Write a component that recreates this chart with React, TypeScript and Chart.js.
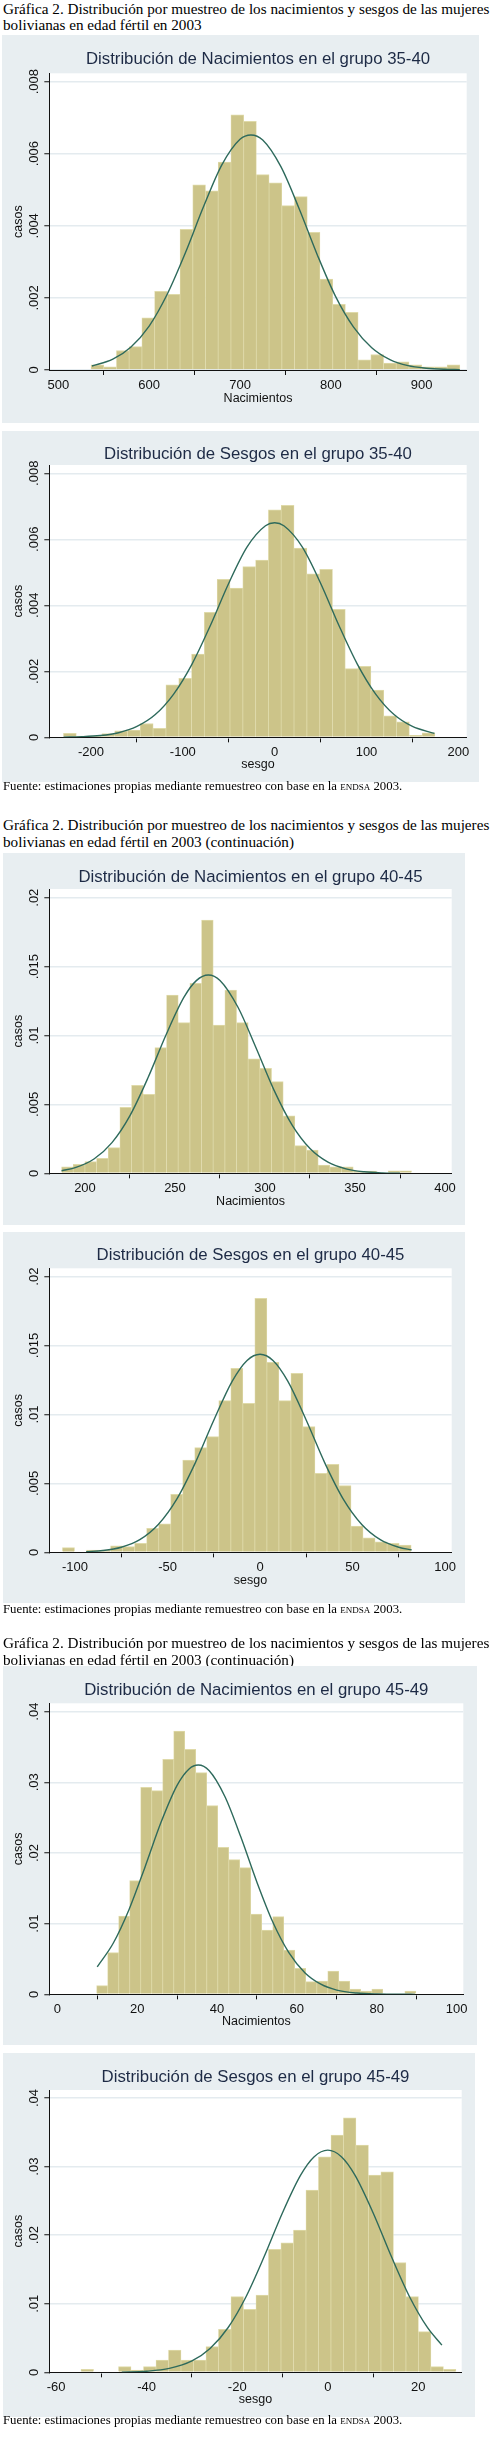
import React, { useEffect, useRef } from "react";
import { Chart, registerables } from "chart.js";

Chart.register(...registerables);

// ---------------- DATA ----------------
// Panel 1 — Nacimientos 35-40
const nac3540BinStart = 536;
const nac3540BinWidth = 14;
const nac3540Density = [0.00014, 0.00009, 0.00054, 0.00065, 0.00145, 0.00218, 0.0021, 0.0039, 0.00514, 0.00497, 0.00577, 0.00708, 0.0069, 0.00542, 0.00519, 0.00456, 0.00481, 0.00382, 0.00252, 0.00182, 0.0016, 0.00028, 0.00043, 0.00019, 0.00023, 0.00014, 0.00009, 0.00009, 0.00014];
const nac3540CurveX = [537, 560, 580, 600, 620, 640, 660, 680, 700, 712, 725, 745, 765, 785, 805, 825, 845, 865, 885, 905, 925, 942];
const nac3540CurveY = [0.00011, 0.0003, 0.00064, 0.00122, 0.00211, 0.00326, 0.00454, 0.00569, 0.0064, 0.00652, 0.00638, 0.00564, 0.00448, 0.0032, 0.00205, 0.00119, 0.00062, 0.00029, 0.00012, 0.00005, 0.00002, 0.00001];

// Panel 2 — Sesgos 35-40
const ses3540BinStart = -230;
const ses3540BinWidth = 13.95;
const ses3540Density = [0.00012, 0.00004, 0.00004, 0.00011, 0.0002, 0.00022, 0.00042, 0.00027, 0.00159, 0.00179, 0.00252, 0.00379, 0.00479, 0.00452, 0.00517, 0.00537, 0.00689, 0.00703, 0.00573, 0.00495, 0.00509, 0.00388, 0.00208, 0.00215, 0.00143, 0.00065, 0.00047, 0.00006, 0.00014];
const ses3540CurveX = [-230, -210, -190, -170, -150, -130, -110, -90, -70, -50, -30, -10, 0, 10, 30, 50, 70, 90, 110, 130, 150, 174];
const ses3540CurveY = [0.000006, 0.000019, 0.000054, 0.00014, 0.00033, 0.00069, 0.00131, 0.00222, 0.00339, 0.00467, 0.00577, 0.00641, 0.0065, 0.00641, 0.00577, 0.00467, 0.00339, 0.00222, 0.00131, 0.00069, 0.00033, 0.00012];

// Panel 3 — Nacimientos 40-45
const nac4045BinStart = 187;
const nac4045BinWidth = 6.48;
const nac4045Density = [0.00048, 0.00065, 0.00085, 0.00109, 0.00186, 0.00479, 0.00638, 0.00573, 0.00912, 0.01294, 0.01093, 0.01378, 0.01838, 0.01076, 0.0133, 0.01093, 0.0083, 0.00762, 0.00665, 0.00418, 0.00201, 0.00169, 0.0006, 0.00048, 0.00048, 0.00017, 0.00017, 0, 0.00019, 0.00019];
const nac4045CurveX = [187, 195, 205, 215, 225, 235, 245, 255, 262, 268.5, 275, 285, 295, 305, 315, 325, 335, 345, 355, 365, 375];
const nac4045CurveY = [0.00019, 0.00043, 0.00104, 0.00223, 0.00419, 0.00693, 0.01004, 0.01278, 0.014, 0.01439, 0.014, 0.01205, 0.00911, 0.00604, 0.00352, 0.0018, 0.00081, 0.00032, 0.00011, 0.00003, 0.00001];

// Panel 4 — Sesgos 40-45
const ses4045BinStart = -106.8;
const ses4045BinWidth = 6.5;
const ses4045Density = [0.00034, 0, 0.00017, 0.00017, 0.00048, 0.00041, 0.00065, 0.00174, 0.00206, 0.00421, 0.0067, 0.00759, 0.00839, 0.011, 0.01335, 0.01081, 0.01843, 0.01378, 0.011, 0.01299, 0.00912, 0.00573, 0.00638, 0.00484, 0.00191, 0.00106, 0.00077, 0.00065, 0.00053];
const ses4045CurveX = [-94, -85, -75, -65, -55, -45, -35, -25, -15, -7, 0, 7, 15, 25, 35, 45, 55, 65, 75, 82];
const ses4045CurveY = [0.00005, 0.00013, 0.00037, 0.00092, 0.00202, 0.00386, 0.00649, 0.00958, 0.01242, 0.01392, 0.01437, 0.01392, 0.01242, 0.00958, 0.00649, 0.00386, 0.00202, 0.00092, 0.00037, 0.00018];

// Panel 5 — Nacimientos 45-49
const nac4549BinStart = 9.85;
const nac4549BinWidth = 2.757;
const nac4549Density = [0.00123, 0.0059, 0.01108, 0.01608, 0.02929, 0.02882, 0.03325, 0.03726, 0.03467, 0.03137, 0.0267, 0.0208, 0.01906, 0.01792, 0.01137, 0.0091, 0.01099, 0.00627, 0.00368, 0.00179, 0.00189, 0.0033, 0.00189, 0.00075, 0.00047, 0.00075, 0, 0, 0.00047];
const nac4549CurveX = [10, 14, 18, 22, 26, 30, 33, 35.3, 38, 42, 46, 50, 54, 58, 62, 66, 70, 75, 80, 85, 89.6];
const nac4549CurveY = [0.0039, 0.00723, 0.01205, 0.01807, 0.02437, 0.02957, 0.03189, 0.03245, 0.03168, 0.02797, 0.02222, 0.01587, 0.0102, 0.0059, 0.00306, 0.00143, 0.0006, 0.00018, 0.00004, 0.00001, 0];

// Panel 6 — Sesgos 45-49
const ses4549BinStart = -54.5;
const ses4549BinWidth = 2.76;
const ses4549Density = [0.00044, 0, 0, 0.00083, 0.00034, 0.00083, 0.0018, 0.00326, 0.0018, 0.0018, 0.00374, 0.00627, 0.01103, 0.00918, 0.01127, 0.01793, 0.0189, 0.02075, 0.02658, 0.03144, 0.0346, 0.03712, 0.03314, 0.02877, 0.02925, 0.01599, 0.01103, 0.00593, 0.00083, 0.00044];
const ses4549CurveX = [-45.5, -40, -35, -30, -26, -22, -18, -14, -10, -6, -3, 0, 3, 6, 10, 14, 18, 22, 25.2];
const ses4549CurveY = [0.00003, 0.00016, 0.00057, 0.00166, 0.00347, 0.00654, 0.0111, 0.01695, 0.02328, 0.02876, 0.03145, 0.0324, 0.03145, 0.02876, 0.02328, 0.01695, 0.0111, 0.00654, 0.00397];

// Tick values and labels
const xTicksNac3540 = [500, 600, 700, 800, 900];
const xLabelsNac3540 = ["500", "600", "700", "800", "900"];
const xTicksSes3540 = [-200, -100, 0, 100, 200];
const xLabelsSes3540 = ["-200", "-100", "0", "100", "200"];
const xTicksNac4045 = [200, 250, 300, 350, 400];
const xLabelsNac4045 = ["200", "250", "300", "350", "400"];
const xTicksSes4045 = [-100, -50, 0, 50, 100];
const xLabelsSes4045 = ["-100", "-50", "0", "50", "100"];
const xTicksNac4549 = [0, 20, 40, 60, 80, 100];
const xLabelsNac4549 = ["0", "20", "40", "60", "80", "100"];
const xTicksSes4549 = [-60, -40, -20, 0, 20];
const xLabelsSes4549 = ["-60", "-40", "-20", "0", "20"];

const yTicks3540 = [0, 0.002, 0.004, 0.006, 0.008];
const yLabels3540 = ["0", ".002", ".004", ".006", ".008"];
const yTicks4045 = [0, 0.005, 0.01, 0.015, 0.02];
const yLabels4045 = ["0", ".005", ".01", ".015", ".02"];
const yTicks4549 = [0, 0.01, 0.02, 0.03, 0.04];
const yLabels4549 = ["0", ".01", ".02", ".03", ".04"];

const captionLine1 = "Gráfica 2. Distribución por muestreo de los nacimientos y sesgos de las mujeres";
const captionLine2 = "bolivianas en edad fértil en 2003";
const captionCont = " (continuación)";
const sourceBefore = "Fuente: estimaciones propias mediante remuestreo con base en la ";
const sourceAcronym = "endsa";
const sourceAfter = " 2003.";

// ---------------- STYLE ----------------
const SANS = '"Liberation Sans", Arial, sans-serif';
const SERIF = '"Liberation Serif", "Times New Roman", serif';
const PANEL_BG = "#e8eef1";
const PLOT_BG = "#ffffff";
const GRID = "#e4ebef";
const BAR_FILL = "#ccc489";
const BAR_EDGE = "#dfdaa9";
const CURVE = "#2e6a5c";
const AXIS = "#111111";
const TEXT = "#111111";
const TITLE_COLOR = "#1d2a45";
const TITLE_SIZE = 16.8;
const TICK_SIZE = 13;
const AXIS_TITLE_SIZE = 12.5;
const TICK_LEN = 5;
const X_LABEL_CENTER = 15;
const Y_LABEL_CENTER = 14.8;
const Y_TITLE_PAGE_X = 18.5;

type Box = { left: number; top: number; width: number; height: number };
type Rect = { left: number; top: number; right: number; bottom: number };

type PanelCfg = {
  title: string;
  xTitle: string;
  binStart: number;
  binWidth: number;
  density: number[];
  curveX: number[];
  curveY: number[];
  xTicks: number[];
  xLabels: string[];
  yTicks: number[];
  yLabels: string[];
  xMin: number;
  xMax: number;
  yMax: number;
  box: Box;
  plot: Rect; // page coordinates
  titleY: number; // page coordinates
  xTitleY: number; // page coordinates
};

const panels: PanelCfg[] = [
  {
    title: "Distribución de Nacimientos en el grupo 35-40",
    xTitle: "Nacimientos",
    binStart: nac3540BinStart, binWidth: nac3540BinWidth, density: nac3540Density,
    curveX: nac3540CurveX, curveY: nac3540CurveY,
    xTicks: xTicksNac3540, xLabels: xLabelsNac3540, yTicks: yTicks3540, yLabels: yLabels3540,
    xMin: 490.1, xMax: 949.5, yMax: 0.00823,
    box: { left: 2, top: 35, width: 477, height: 388 },
    plot: { left: 49.33, top: 73.33, right: 466.67, bottom: 370 },
    titleY: 59.8, xTitleY: 398.8,
  },
  {
    title: "Distribución de Sesgos en el grupo 35-40",
    xTitle: "sesgo",
    binStart: ses3540BinStart, binWidth: ses3540BinWidth, density: ses3540Density,
    curveX: ses3540CurveX, curveY: ses3540CurveY,
    xTicks: xTicksSes3540, xLabels: xLabelsSes3540, yTicks: yTicks3540, yLabels: yLabels3540,
    xMin: -245.4, xMax: 209.1, yMax: 0.00825,
    box: { left: 2, top: 431, width: 477, height: 351 },
    plot: { left: 49.33, top: 465, right: 466.67, bottom: 737.33 },
    titleY: 454.2, xTitleY: 765,
  },
  {
    title: "Distribución de Nacimientos en el grupo 40-45",
    xTitle: "Nacimientos",
    binStart: nac4045BinStart, binWidth: nac4045BinWidth, density: nac4045Density,
    curveX: nac4045CurveX, curveY: nac4045CurveY,
    xTicks: xTicksNac4045, xLabels: xLabelsNac4045, yTicks: yTicks4045, yLabels: yLabels4045,
    xMin: 180.2, xMax: 403.7, yMax: 0.02063,
    box: { left: 3, top: 853, width: 462, height: 372 },
    plot: { left: 49.33, top: 889, right: 451.67, bottom: 1173.33 },
    titleY: 877.5, xTitleY: 1201.7,
  },
  {
    title: "Distribución de Sesgos en el grupo 40-45",
    xTitle: "sesgo",
    binStart: ses4045BinStart, binWidth: ses4045BinWidth, density: ses4045Density,
    curveX: ses4045CurveX, curveY: ses4045CurveY,
    xTicks: xTicksSes4045, xLabels: xLabelsSes4045, yTicks: yTicks4045, yLabels: yLabels4045,
    xMin: -113.9, xMax: 103.6, yMax: 0.0206,
    box: { left: 3, top: 1232, width: 462, height: 371 },
    plot: { left: 49.33, top: 1268.33, right: 451.67, bottom: 1552.33 },
    titleY: 1255.8, xTitleY: 1580.7,
  },
  {
    title: "Distribución de Nacimientos en el grupo 45-49",
    xTitle: "Nacimientos",
    binStart: nac4549BinStart, binWidth: nac4549BinWidth, density: nac4549Density,
    curveX: nac4549CurveX, curveY: nac4549CurveY,
    xTicks: xTicksNac4549, xLabels: xLabelsNac4549, yTicks: yTicks4549, yLabels: yLabels4549,
    xMin: -2.0, xMax: 101.7, yMax: 0.04118,
    box: { left: 3, top: 1666, width: 474, height: 379 },
    plot: { left: 49.33, top: 1703.33, right: 463.33, bottom: 1994.33 },
    titleY: 1690.5, xTitleY: 2021.7,
  },
  {
    title: "Distribución de Sesgos en el grupo 45-49",
    xTitle: "sesgo",
    binStart: ses4549BinStart, binWidth: ses4549BinWidth, density: ses4549Density,
    curveX: ses4549CurveX, curveY: ses4549CurveY,
    xTicks: xTicksSes4549, xLabels: xLabelsSes4549, yTicks: yTicks4549, yLabels: yLabels4549,
    xMin: -61.5, xMax: 29.57, yMax: 0.04117,
    box: { left: 3, top: 2053, width: 472, height: 364 },
    plot: { left: 49.33, top: 2090, right: 461.67, bottom: 2372.33 },
    titleY: 2077.2, xTitleY: 2400,
  },
];

const plotBackground = {
  id: "plotBackground",
  beforeDraw(chart: any) {
    const { ctx, chartArea } = chart;
    if (!chartArea) return;
    ctx.save();
    ctx.fillStyle = PLOT_BG;
    ctx.fillRect(chartArea.left, chartArea.top, chartArea.right - chartArea.left, chartArea.bottom - chartArea.top);
    ctx.restore();
  },
};

function HistPanel({ cfg }: { cfg: PanelCfg }) {
  const ref = useRef<HTMLCanvasElement>(null);

  useEffect(() => {
    const canvas = ref.current;
    if (!canvas) return;
    const W = cfg.box.width;
    const H = cfg.box.height;
    const plotLeft = cfg.plot.left - cfg.box.left;
    const plotTop = cfg.plot.top - cfg.box.top;
    const plotRight = cfg.plot.right - cfg.box.left;
    const plotBottom = cfg.plot.bottom - cfg.box.top;
    const titleCenter = cfg.titleY - cfg.box.top;
    const titleLH = TITLE_SIZE * 1.2;
    const titlePadTop = titleCenter - titleLH / 2;
    const titlePadBottom = Math.max(0, plotTop - titlePadTop - titleLH);
    const xAxisH = cfg.xTitleY - cfg.plot.bottom + (AXIS_TITLE_SIZE * 1.2) / 2;
    const padBottom = H - plotBottom - xAxisH;
    const padRight = W - plotRight;
    const xTickPad = X_LABEL_CENTER - TICK_LEN - (TICK_SIZE * 1.2) / 2;

    const mctx = canvas.getContext("2d");
    let widest = 25;
    if (mctx) {
      mctx.font = `${TICK_SIZE}px ${SANS}`;
      widest = Math.max(...cfg.yLabels.map((l) => mctx.measureText(l).width));
    }
    const yTickPad = Y_LABEL_CENTER - TICK_LEN - widest / 2;
    const yTitlePad = Y_TITLE_PAGE_X - cfg.box.left - (AXIS_TITLE_SIZE * 1.2) / 2;

    const bars = cfg.density.map((d, i) => ({ x: cfg.binStart + cfg.binWidth * (i + 0.5), y: d }));
    const curve = cfg.curveX.map((x, i) => ({ x, y: cfg.curveY[i] }));

    const chart = new Chart(canvas, {
      type: "bar",
      data: {
        datasets: [
          {
            type: "line",
            data: curve,
            borderColor: CURVE,
            borderWidth: 1.4,
            pointRadius: 0,
            fill: false,
            cubicInterpolationMode: "monotone",
            order: 0,
          } as any,
          {
            type: "bar",
            data: bars,
            backgroundColor: BAR_FILL,
            borderColor: BAR_EDGE,
            borderWidth: { top: 1, left: 0.75, right: 0.75, bottom: 0 },
            borderSkipped: "start",
            barPercentage: 1,
            categoryPercentage: 1,
            order: 1,
          } as any,
        ],
      },
      options: {
        animation: false,
        responsive: false,
        maintainAspectRatio: false,
        events: [],
        layout: { padding: { left: 0, right: padRight, top: 0, bottom: padBottom } },
        plugins: {
          legend: { display: false },
          tooltip: { enabled: false },
          title: {
            display: true,
            text: cfg.title,
            fullSize: false,
            color: TITLE_COLOR,
            font: { family: SANS, size: TITLE_SIZE, weight: "normal", lineHeight: 1.2 },
            padding: { top: titlePadTop, bottom: titlePadBottom },
          },
        },
        scales: {
          x: {
            type: "linear",
            min: cfg.xMin,
            max: cfg.xMax,
            offset: false,
            afterBuildTicks: (axis: any) => {
              axis.ticks = cfg.xTicks.map((v) => ({ value: v }));
            },
            afterFit: (axis: any) => {
              axis.height = xAxisH;
              axis.paddingLeft = 0;
              axis.paddingRight = 0;
            },
            grid: { drawOnChartArea: false, drawTicks: true, tickLength: TICK_LEN, tickColor: AXIS, tickWidth: 1 },
            border: { display: true, color: AXIS, width: 1 },
            ticks: {
              autoSkip: false,
              minRotation: 0,
              maxRotation: 0,
              padding: xTickPad,
              color: TEXT,
              font: { family: SANS, size: TICK_SIZE },
              callback: (_v: any, i: number) => cfg.xLabels[i],
            },
            title: {
              display: true,
              text: cfg.xTitle,
              color: TEXT,
              font: { family: SANS, size: AXIS_TITLE_SIZE, lineHeight: 1.2 },
              padding: { top: 0, bottom: 0 },
            },
          },
          y: {
            type: "linear",
            min: 0,
            max: cfg.yMax,
            afterBuildTicks: (axis: any) => {
              axis.ticks = cfg.yTicks.map((v) => ({ value: v }));
            },
            afterFit: (axis: any) => {
              axis.width = plotLeft;
              axis.paddingTop = 0;
              axis.paddingBottom = 0;
            },
            grid: {
              drawOnChartArea: true,
              color: GRID,
              lineWidth: 1.5,
              drawTicks: true,
              tickLength: TICK_LEN,
              tickColor: AXIS,
              tickWidth: 1,
            },
            border: { display: true, color: AXIS, width: 1 },
            ticks: {
              autoSkip: false,
              minRotation: 90,
              maxRotation: 90,
              crossAlign: "center",
              padding: yTickPad,
              color: TEXT,
              font: { family: SANS, size: TICK_SIZE },
              callback: (_v: any, i: number) => cfg.yLabels[i],
            },
            title: {
              display: true,
              text: "casos",
              color: TEXT,
              font: { family: SANS, size: AXIS_TITLE_SIZE, lineHeight: 1.2 },
              padding: { top: yTitlePad, bottom: 0 },
            },
          },
        },
      } as any,
      plugins: [plotBackground],
    });
    return () => chart.destroy();
  }, [cfg]);

  return (
    <div
      style={{
        position: "absolute",
        left: cfg.box.left,
        top: cfg.box.top,
        width: cfg.box.width,
        height: cfg.box.height,
        background: PANEL_BG,
      }}
    >
      <canvas
        ref={ref}
        width={cfg.box.width}
        height={cfg.box.height}
        style={{ display: "block", width: cfg.box.width, height: cfg.box.height }}
      />
    </div>
  );
}

const CAPTION_SIZE = 15.2;
const SOURCE_SIZE = 12.8;

function TextLine({ baseline, size, children }: { baseline: number; size: number; children: React.ReactNode }) {
  return (
    <div
      style={{
        position: "absolute",
        left: 3,
        top: baseline - size * 0.8375,
        fontFamily: SERIF,
        fontSize: size,
        lineHeight: 1,
        color: "#000",
        whiteSpace: "nowrap",
      }}
    >
      {children}
    </div>
  );
}

function Source({ baseline }: { baseline: number }) {
  return (
    <TextLine baseline={baseline} size={SOURCE_SIZE}>
      {sourceBefore}
      <span style={{ fontVariant: "small-caps" }}>{sourceAcronym}</span>
      {sourceAfter}
    </TextLine>
  );
}

export default function App() {
  return (
    <div
      style={{
        position: "absolute",
        left: 0,
        top: 0,
        width: 496,
        height: 2456,
        background: "#ffffff",
        overflow: "hidden",
      }}
    >
      <TextLine baseline={13.6} size={CAPTION_SIZE}>{captionLine1}</TextLine>
      <TextLine baseline={29.4} size={CAPTION_SIZE}>{captionLine2}</TextLine>
      <HistPanel cfg={panels[0]} />
      <HistPanel cfg={panels[1]} />
      <Source baseline={790.7} />

      <TextLine baseline={829.8} size={CAPTION_SIZE}>{captionLine1}</TextLine>
      <TextLine baseline={846.6} size={CAPTION_SIZE}>{captionLine2 + captionCont}</TextLine>
      <HistPanel cfg={panels[2]} />
      <HistPanel cfg={panels[3]} />
      <Source baseline={1613.3} />

      <TextLine baseline={1648} size={CAPTION_SIZE}>{captionLine1}</TextLine>
      <TextLine baseline={1665} size={CAPTION_SIZE}>{captionLine2 + captionCont}</TextLine>
      <HistPanel cfg={panels[4]} />
      <HistPanel cfg={panels[5]} />
      <Source baseline={2425} />
    </div>
  );
}
